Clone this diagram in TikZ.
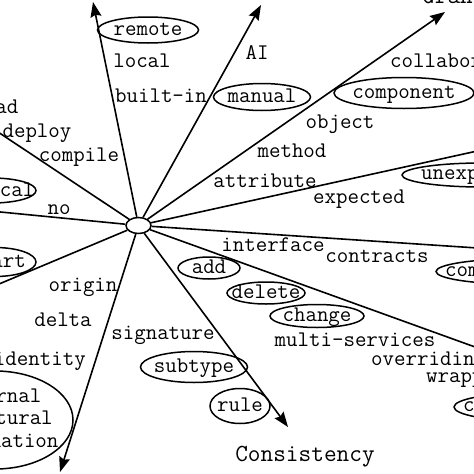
\documentclass[tikz,border=0pt]{standalone}
\usetikzlibrary{shapes.geometric,arrows.meta}
\begin{document}
\begin{tikzpicture}[x=1pt,y=-1pt,
  lab/.style={font=\ttfamily\fontsize{22.3}{25}\selectfont, inner sep=0pt, text height=1.08em, text depth=0em},
  cat/.style={font=\ttfamily\fontsize{24.6}{27}\selectfont, inner sep=0pt, text height=1.31em, text depth=0em},
  oval/.style={draw, ellipse, line width=1.5pt, inner sep=0pt},
  spoke/.style={line width=1.6pt},
  arr/.style={spoke, -{Stealth[length=15pt,width=11pt,inset=2pt]}}
]
\useasboundingbox (0,0) rectangle (474,474);
\clip (0,0) rectangle (474,474);

% hub
\node[oval, minimum width=25pt, minimum height=16pt] (hub) at (138.5,225.5) {};

% end points
\coordinate (t1) at (93,2);
\coordinate (t2) at (261,5);
\coordinate (t3) at (445,12);
\coordinate (e4) at (500,146);
\coordinate (e5) at (500,249.5);
\coordinate (e6) at (500,356);
\coordinate (t7) at (288,427);
\coordinate (t8) at (60,472);
\coordinate (e9) at (-20,292);
\coordinate (e10) at (-20,210);
\coordinate (e11) at (-20,120);

\draw[arr] (hub) -- (t1);
\draw[arr] (hub) -- (t2);
\draw[arr] (hub) -- (t3);
\draw[spoke] (hub) -- (e4);
\draw[spoke] (hub) -- (e5);
\draw[spoke] (hub) -- (e6);
\draw[arr] (hub) -- (t7);
\draw[arr] (hub) -- (t8);
\draw[spoke] (hub) -- (e9);
\draw[spoke] (hub) -- (e10);
\draw[spoke] (hub) -- (e11);

% category labels
\node[font=\ttfamily\fontsize{24.6}{27}\selectfont, inner sep=0pt, anchor=base west] (gran) at (422,3) {Granularity};
\node[cat] (cons) at (305,455) {Consistency};

% upper spoke
\node[oval, minimum width=101pt, minimum height=26pt, label={[lab]center:remote}] (remote) at (148,30) {};
\node[lab] (local) at (142,62) {local};
\node[lab] (builtin) at (161,97) {built-in};

% second spoke
\node[lab] (ai) at (257,54) {AI};
\node[oval, minimum width=97pt, minimum height=27pt, label={[lab]center:manual}] (manual) at (262,97) {};

% granularity spoke
\node[lab, anchor=west] (collab) at (390,62) {collaboration};
\node[oval, minimum width=140pt, minimum height=31pt, label={[lab]center:component}] (comp) at (404,93) {};
\node[lab] (object) at (340,123) {object};
\node[lab] (method) at (292,152) {method};
\node[lab] (attr) at (265,182) {attribute};

% right spoke
\node[oval, minimum width=160pt, minimum height=24pt] (unexp) at (482,175) {};
\node[lab, anchor=west] (unexpt) at (421,174) {unexpected};
\node[lab] (expected) at (359,198) {expected};

% interface spoke
\node[lab] (interface) at (273,246) {interface};
\node[lab] (contracts) at (377,257) {contracts};
\node[oval, minimum width=160pt, minimum height=25pt] (compat) at (516,271.5) {};
\node[lab, anchor=west] (compatt) at (445,271) {compatibility};

% change spoke
\node[oval, minimum width=62pt, minimum height=22pt, label={[lab]center:add}] (add) at (209,268) {};
\node[oval, minimum width=78pt, minimum height=22pt, label={[lab]center:delete}] (delete) at (266,293) {};
\node[oval, minimum width=94pt, minimum height=23pt, label={[lab]center:change}] (change) at (317,316) {};
\node[lab] (multi) at (355,341) {multi-services};
\node[lab, anchor=west] (overr) at (371,360) {overriding};
\node[lab, anchor=west] (wrap) at (426,377) {wrapping};
\node[oval, minimum width=150pt, minimum height=28pt] (compo) at (529,407) {};
\node[lab, anchor=west] (compot) at (463,406) {composition};

% consistency spoke
\node[lab] (signature) at (163,334) {signature};
\node[oval, minimum width=107pt, minimum height=31pt, label={[lab]center:subtype}] (subtype) at (194,367) {};
\node[oval, minimum width=60pt, minimum height=35pt, label={[lab]center:rule}] (rule) at (240,406) {};

% history spoke
\node[lab] (origin) at (83,286) {origin};
\node[lab] (delta) at (63,321) {delta};
\node[lab, anchor=east] (identity) at (86,360) {identity};
\node[oval, minimum width=156pt, minimum height=98pt] (big) at (-5,420) {};
\node[lab] (big1) at (-4.7,397) {internal};
\node[lab] (big2) at (-4.7,419) {structural};
\node[lab] (big3) at (-4.7,442) {information};

% left spokes
\node[oval, minimum width=82pt, minimum height=29pt] (start) at (-5,262) {};
\node[lab, anchor=east] (startt) at (26,262) {start};
\node[oval, minimum width=88pt, minimum height=25pt] (logical) at (-8,190.5) {};
\node[lab, anchor=east] (logicalt) at (34.5,191) {logical};
\node[lab] (no) at (59,209) {no};
\node[lab] (compile) at (79,156) {compile};
\node[lab] (deploy) at (37,132) {deploy};
\node[lab, anchor=east] (load) at (18.5,108) {load};
\end{tikzpicture}
\end{document}
